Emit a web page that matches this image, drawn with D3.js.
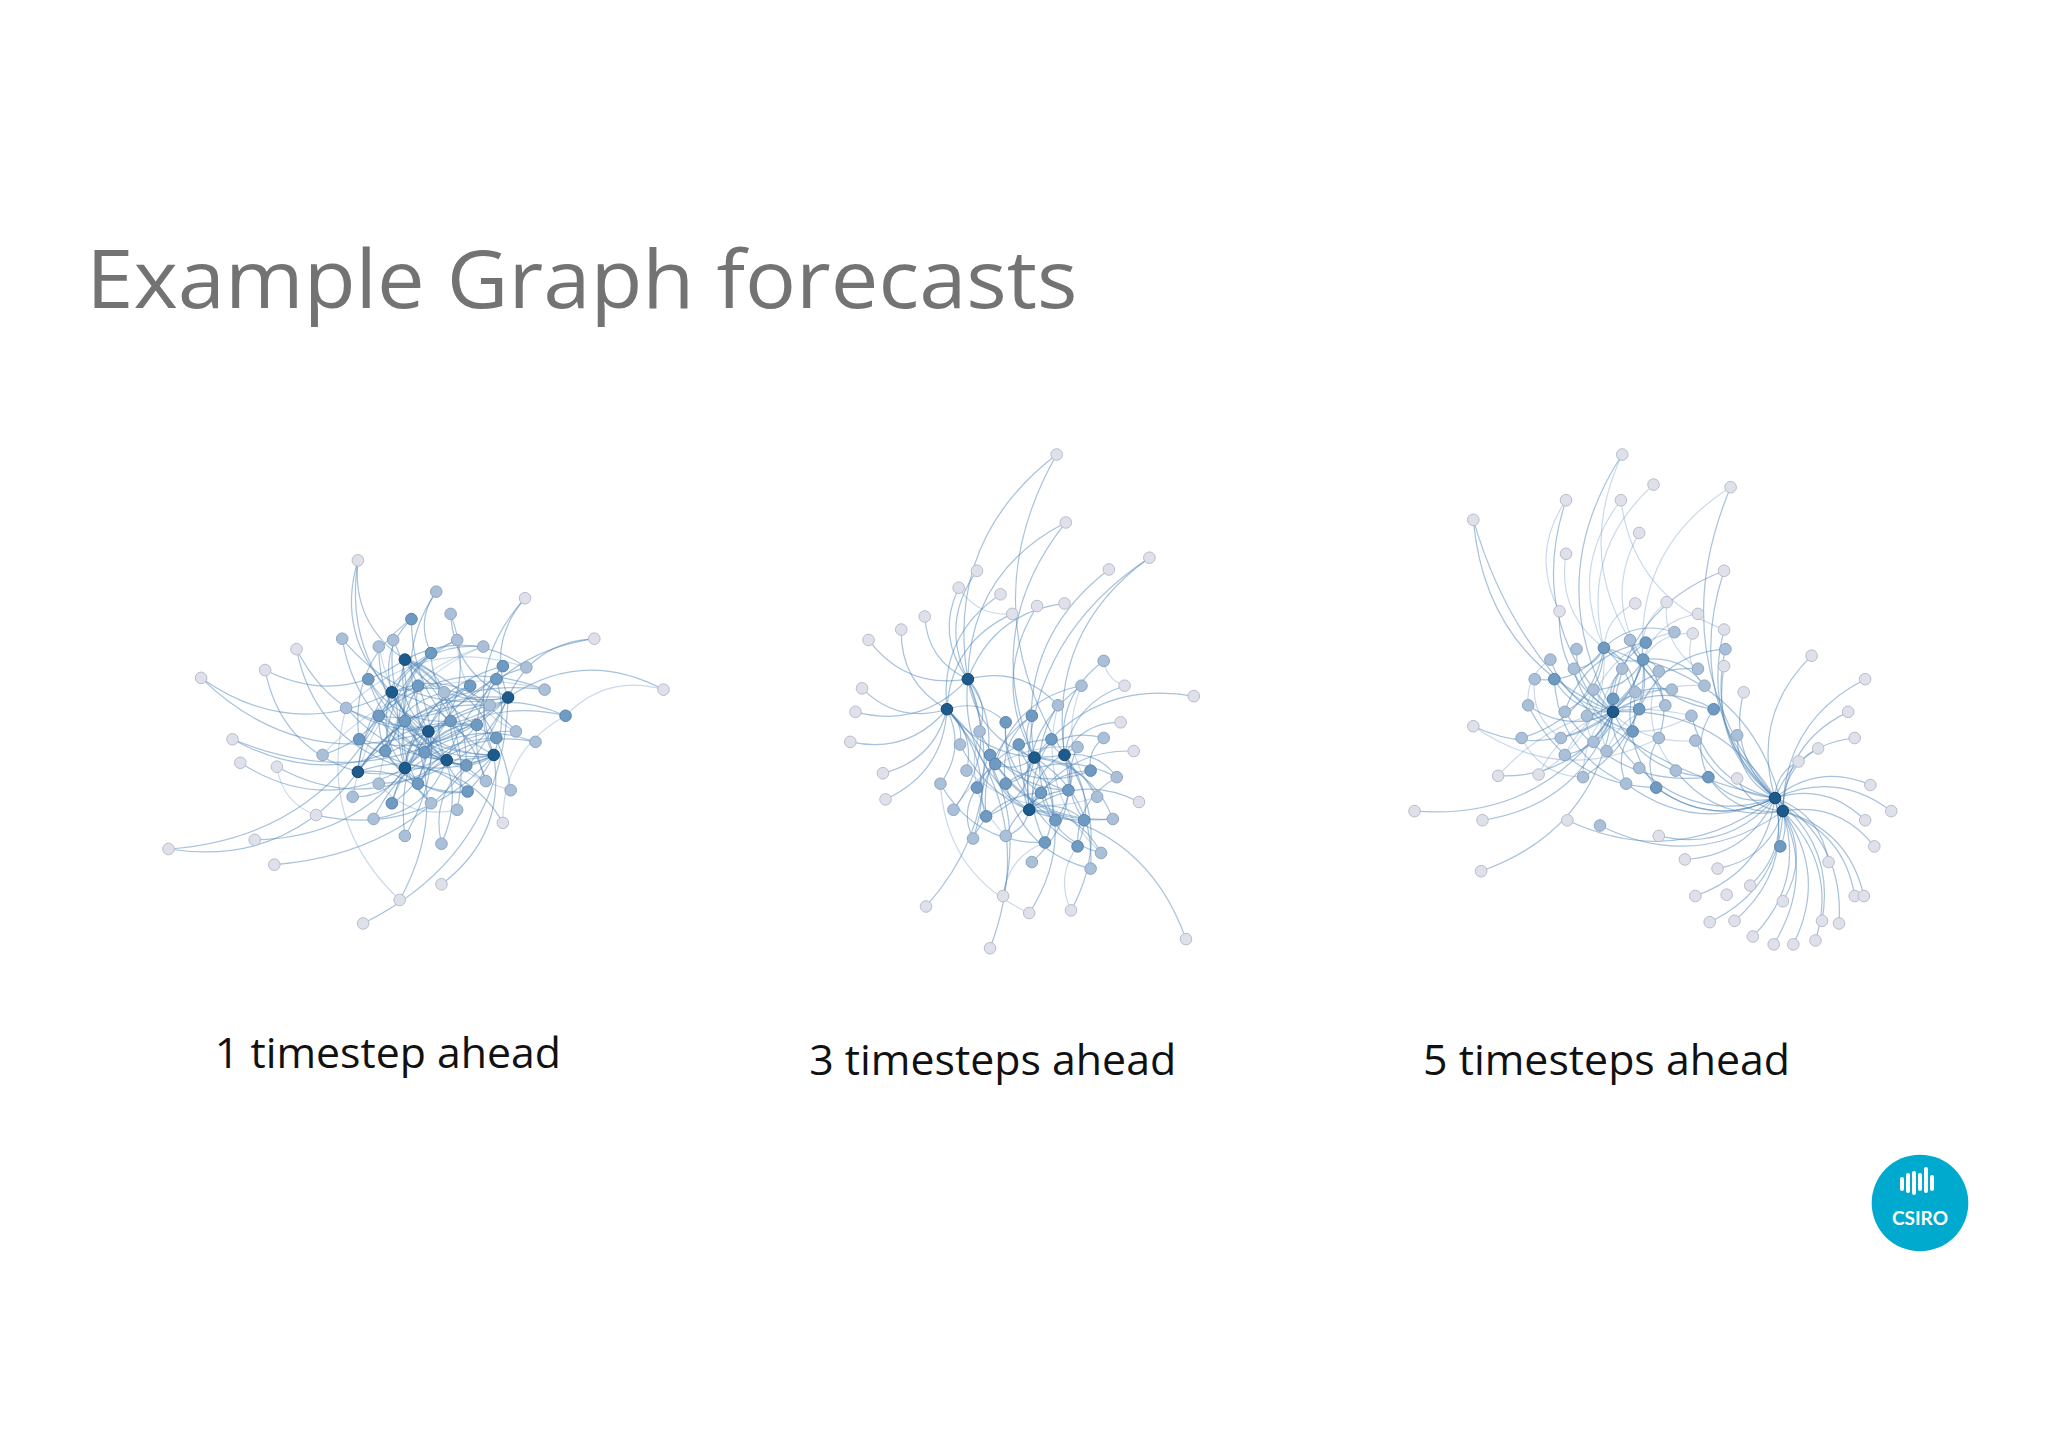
<!DOCTYPE html>
<html><head><meta charset="utf-8">
<script src="https://cdn.jsdelivr.net/npm/d3@7"></script>
<style>html,body{margin:0;background:#fff}</style>
</head><body><svg id="c" width="2048" height="1448"></svg>
<script>
// node data: [x, y, shade level 0..3] in reference-slide units (1568 wide)
const graph1Nodes = [[274,429,0],[334,453,1],[402,458,0],[455,489,0],[508,528,0],[154,519,0],[203,513,0],[227,497,0],[262,489,1],[315,474,2],[290,495,1],[310,505,3],[330,500,2],[350,490,1],[370,495,1],[385,510,2],[403,511,1],[417,528,1],[389,534,3],[433,548,2],[282,520,2],[300,530,3],[320,525,2],[340,530,1],[360,525,2],[375,540,1],[265,542,1],[290,548,2],[310,552,2],[328,560,3],[345,552,2],[365,555,2],[380,565,2],[395,560,1],[410,568,1],[178,566,0],[212,587,0],[247,578,1],[275,566,2],[295,575,2],[310,588,3],[325,576,2],[342,582,3],[357,586,2],[378,578,3],[274,591,3],[290,600,1],[320,600,2],[358,606,2],[372,598,1],[391,605,1],[184,584,0],[129,650,0],[195,643,0],[210,662,0],[242,624,0],[286,627,1],[310,640,1],[338,646,1],[385,630,0],[306,689,0],[338,677,0],[278,707,0],[270,610,1],[300,615,2],[330,615,1],[350,620,1],[301,490,1],[345,470,1],[380,520,2]];
const graph1Links = "0-11 0-29 0-21 1-12 1-29 2-18 2-44 3-18 3-42 4-19 4-18 5-21 5-29 6-11 6-45 7-29 7-40 8-18 8-42 9-44 9-21 10-42 12-40 13-45 14-21 15-40 16-11 17-45 19-29 20-44 22-45 23-11 24-40 25-21 26-18 27-42 28-44 30-11 31-45 32-29 33-21 34-40 35-18 35-29 36-42 37-11 38-18 39-21 41-44 43-11 46-18 47-29 48-45 49-21 50-11 51-40 52-21 52-45 53-29 54-18 55-44 56-42 57-11 58-29 59-40 60-21 61-44 62-18 63-40 64-29 65-45 66-11 67-42 68-18 69-44 11-29 21-40 18-45 42-44 29-40 11-18 21-44 12-31 13-33 22-47 23-48 24-57 27-30 28-65 31-41 9-38 15-49 16-26 17-37 20-43 25-64 32-56 34-47 36-55 39-67 41-68 43-58 46-66 48-69 10-50 14-63 19-59 26-60 20-30 22-42 23-39 24-41 27-47 28-43 30-49 31-64 33-47 38-44 39-48 40-48 45-31 27-15 12-28 13-39 14-46 16-47 17-27 19-40 25-45 26-44";
const graph2Nodes = [[809,348,0],[816,400,0],[880,427,0],[849,436,0],[748,437,0],[734,450,0],[766,455,0],[794,464,0],[815,462,0],[775,470,0],[708,472,0],[690,482,0],[665,490,0],[845,506,1],[914,533,0],[660,527,0],[741,520,3],[725,543,3],[655,545,0],[651,568,0],[828,525,1],[861,525,0],[810,540,1],[790,548,2],[770,553,2],[750,560,1],[735,570,1],[758,578,2],[780,570,2],[805,566,2],[825,572,1],[845,565,1],[858,553,0],[868,575,0],[740,590,1],[762,585,2],[792,580,3],[815,578,3],[835,590,2],[855,595,1],[720,600,1],[748,603,2],[770,600,2],[797,607,2],[818,605,2],[840,610,1],[872,614,0],[676,592,0],[678,612,0],[730,620,1],[755,625,2],[788,620,3],[808,628,2],[830,628,2],[852,627,1],[745,642,1],[770,640,1],[800,645,2],[825,648,2],[843,653,1],[768,686,0],[709,694,0],[788,699,0],[820,697,0],[758,726,0],[908,719,0],[835,665,1],[790,660,1]];
const graph2Links = "0-16 0-37 1-16 1-36 2-37 2-51 3-36 4-16 5-16 6-17 7-36 8-16 9-17 10-16 11-17 12-16 13-37 14-36 15-17 18-16 19-17 20-51 21-37 22-16 23-36 24-17 25-16 26-17 27-51 28-36 29-37 30-51 31-36 32-37 33-51 34-17 35-36 38-51 39-37 40-17 41-16 42-36 43-51 44-37 45-36 46-51 47-17 48-17 49-16 50-36 52-37 53-51 54-36 55-17 56-51 57-36 58-37 59-51 60-17 61-16 62-36 63-37 64-17 65-51 66-36 67-37 16-36 17-37 36-51 16-51 23-42 24-43 28-44 29-57 35-50 39-58 41-55 22-52 25-56 30-53 27-54 40-62 42-66 43-59 20-45 31-38 5-9 13-21 57-60 58-63 23-50 24-52 25-44 26-53 27-38 28-58 29-41 30-49 34-45 35-54 39-42 40-57 43-55 44-56 22-59 20-35";
const graph3Nodes = [[1242,348,0],[1266,371,0],[1325,373,0],[1199,383,0],[1241,383,0],[1128,398,0],[1255,408,0],[1199,424,0],[1320,437,0],[1276,461,0],[1194,468,0],[1252,462,0],[1300,470,0],[1320,482,0],[1207,497,1],[1228,496,2],[1248,490,1],[1260,492,2],[1282,484,1],[1296,485,0],[1321,497,1],[1187,505,1],[1205,512,1],[1242,512,1],[1258,505,2],[1270,514,1],[1300,512,1],[1175,520,1],[1190,520,2],[1220,528,1],[1235,535,2],[1252,530,1],[1280,528,1],[1305,525,1],[1320,510,0],[1335,530,0],[1387,502,0],[1428,520,0],[1170,540,1],[1198,545,1],[1215,548,1],[1235,545,3],[1255,543,2],[1275,540,1],[1295,548,1],[1312,543,2],[1128,556,0],[1165,565,1],[1195,565,1],[1220,568,1],[1250,560,2],[1270,565,1],[1298,567,1],[1330,563,1],[1415,545,0],[1420,565,0],[1198,578,1],[1230,575,1],[1255,588,1],[1283,590,1],[1308,595,2],[1377,583,0],[1392,573,0],[1147,594,0],[1178,593,0],[1212,595,1],[1245,600,1],[1268,603,2],[1330,596,0],[1432,601,0],[1359,611,3],[1365,621,3],[1363,648,2],[1083,621,0],[1135,628,0],[1200,628,0],[1225,632,1],[1270,640,0],[1448,621,0],[1435,648,0],[1428,628,0],[1134,667,0],[1290,658,0],[1315,665,0],[1340,678,0],[1365,690,0],[1400,660,0],[1420,686,0],[1298,686,0],[1309,706,0],[1328,705,0],[1342,717,0],[1358,723,0],[1373,723,0],[1390,720,0],[1408,707,0],[1427,686,0],[1395,705,0],[1322,685,0]];
const graph3Links = "0-41 0-24 1-15 2-24 2-70 3-41 4-15 5-41 5-70 6-24 7-15 8-70 8-41 9-24 10-41 11-15 12-24 13-70 14-41 16-24 17-41 18-15 19-24 20-70 21-41 22-15 23-41 25-24 26-41 27-15 28-41 29-24 30-41 31-15 32-41 33-24 34-70 35-70 36-70 37-71 38-41 39-15 40-24 42-41 43-15 44-70 45-41 46-41 47-15 48-24 49-41 50-15 51-24 52-70 53-70 54-71 55-70 56-41 57-24 58-70 59-71 60-70 61-70 62-71 63-41 64-15 65-24 66-70 67-70 68-71 69-70 72-70 73-41 74-41 75-70 76-71 77-70 78-70 79-71 80-70 81-41 82-70 83-71 84-70 85-71 86-70 87-71 88-70 89-71 90-70 91-71 92-70 93-71 94-71 95-70 96-71 97-70 70-41 71-24 15-24 41-60 24-67 67-70 60-71 4-13 9-26 21-38 29-49 45-60 51-67 47-65 3-10 50-66 22-50 23-57 25-59 27-48 28-66 29-52 30-58 31-65 32-56 33-49 38-67 39-60 40-44 42-64 43-57 44-63 46-51 16-45 17-39 18-40 19-33 20-42";
const graphLabels = ["1 timestep ahead", "3 timesteps ahead", "5 timesteps ahead"];
const labelCenters = [297, 760, 1230];
const labelBaselines = [818, 823, 823];
const titleText = "Example Graph forecasts";

const svg = d3.select("#c");
const sx = d3.scaleLinear().domain([0,1568]).range([0,2048]);
const sy = d3.scaleLinear().domain([0,1108.6]).range([0,1448]);
const shade = d3.scaleOrdinal().domain([0,1,2,3]).range(["#dfe1ea","#aac0d8","#6f9bc3","#1d5b8d"]);
const shadeStroke = d3.scaleOrdinal().domain([0,1,2,3]).range(["#b9bccb","#8fa6c0","#5a83ab","#16466f"]);

svg.append("text").attr("x",sx(66)).attr("y",sy(236)).text(titleText)
  .attr("font-family","'Open Sans', Lato, sans-serif").attr("font-size",80).attr("fill","#737373")
  .attr("textLength",sx(825-66)).attr("lengthAdjust","spacingAndGlyphs");

function drawGraph(nodes, links){
  const g = svg.append("g");
  const pairs = links.trim().split(/\s+/).map(s=>s.split("-").map(Number)).filter(p=>nodes[p[0]]&&nodes[p[1]]);
  g.selectAll("path").data(pairs).join("path")
    .attr("d", p=>{
      const a=nodes[p[0]], b=nodes[p[1]];
      const x1=sx(a[0]),y1=sy(a[1]),x2=sx(b[0]),y2=sy(b[1]);
      const dx=x2-x1, dy=y2-y1;
      const cx=(x1+x2)/2 - dy*0.3, cy=(y1+y2)/2 + dx*0.3;
      return `M${x1},${y1}Q${cx},${cy} ${x2},${y2}`;
    })
    .attr("fill","none").attr("stroke","#4f86b8")
    .attr("stroke-opacity", p=> (nodes[p[0]][2]+nodes[p[1]][2])>2 ? 0.5 : 0.3)
    .attr("stroke-width",1.2);
  g.selectAll("circle").data(nodes.slice().sort((a,b)=>a[2]-b[2])).join("circle")
    .attr("cx",d=>sx(d[0])).attr("cy",d=>sy(d[1])).attr("r",5.8)
    .attr("fill",d=>shade(d[2])).attr("stroke",d=>shadeStroke(d[2])).attr("stroke-width",1);
}
drawGraph(graph1Nodes, graph1Links);
drawGraph(graph2Nodes, graph2Links);
drawGraph(graph3Nodes, graph3Links);

const labWidths = [265, 281, 281];
svg.selectAll("text.lab").data(graphLabels).join("text").attr("class","lab")
  .attr("x",(d,i)=>sx(labelCenters[i])).attr("y",(d,i)=>sy(labelBaselines[i])).attr("text-anchor","middle")
  .attr("font-family","'Open Sans', Lato, sans-serif").attr("font-size",42).attr("fill","#111")
  .attr("textLength",(d,i)=>sx(labWidths[i])).attr("lengthAdjust","spacingAndGlyphs").text(d=>d);

// CSIRO logo
const lg = svg.append("g").attr("transform",`translate(${sx(1470)},${sy(921)})`);
lg.append("circle").attr("r",sx(37)).attr("fill","#00a9ce");
const bars=[[-18,14,-4],[-12,20,-2],[-6,24,0],[0,18,-4],[6,26,-2],[12,16,-4]];
lg.selectAll("rect").data(bars).join("rect")
  .attr("x",d=>d[0]-2).attr("y",d=>-8-d[1]+d[2]).attr("width",4).attr("height",d=>d[1]).attr("rx",2).attr("fill","#fff");
lg.append("text").attr("y",22).attr("text-anchor","middle").attr("font-family","Lato, sans-serif")
  .attr("font-weight","bold").attr("font-size",19).attr("fill","#fff").text("CSIRO");
</script></body></html>
